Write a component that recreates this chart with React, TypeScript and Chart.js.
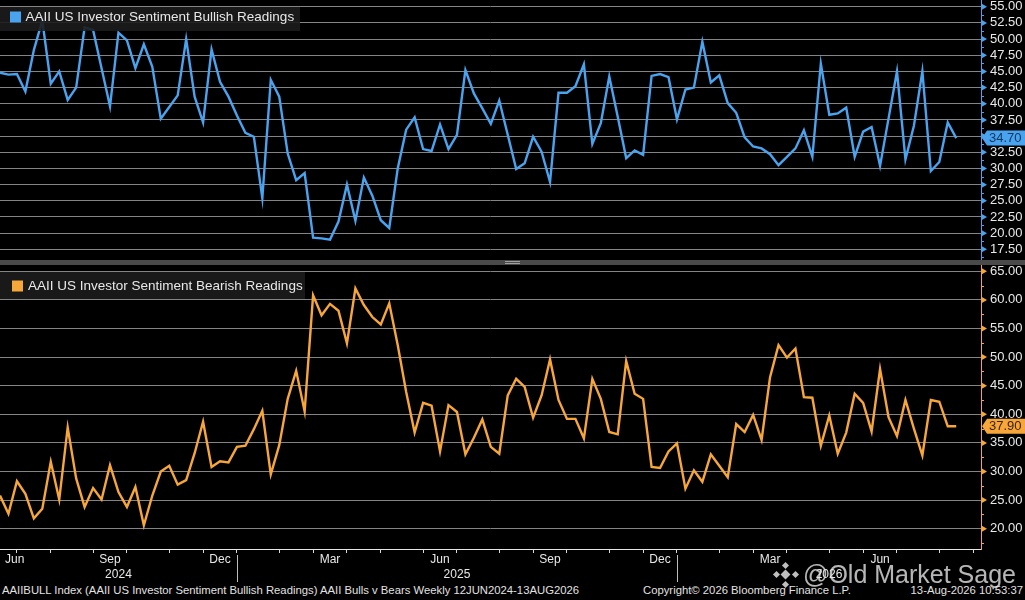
import React, { useEffect, useRef } from 'react';
import { Chart, registerables } from 'chart.js';

Chart.register(...registerables);

// ---------- data ----------
const FIRST_WEEK = '2024-06-13';

const BULLISH: number[] = [
  44.8, 44.5, 44.6, 41.9, 48.3, 52.9, 43.1, 45.0, 40.6, 42.5,
  51.8, 51.4, 45.5, 39.6, 51.0, 49.8, 45.5, 49.2, 45.7, 37.7,
  39.5, 41.3, 50.0, 41.1, 37.1, 48.4, 43.4, 41.1, 38.2, 35.5,
  34.9, 25.4, 43.7, 41.1, 32.3, 28.2, 29.3, 19.3, 19.2, 19.0,
  21.8, 27.5, 21.9, 28.6, 25.8, 22.0, 20.8, 30.0, 36.0, 37.9,
  33.0, 32.7, 36.8, 33.0, 35.2, 45.2, 41.6, 39.3, 36.9, 40.5,
  35.2, 29.9, 30.8, 34.9, 32.6, 27.9, 41.7, 41.7, 42.7, 46.1,
  33.8, 37.0, 44.2, 38.0, 31.6, 32.8, 32.1, 44.3, 44.6, 44.1,
  37.6, 42.2, 42.5, 49.6, 43.3, 44.4, 40.1, 38.6, 34.8, 33.4,
  33.1, 32.2, 30.5, 31.8, 33.1, 35.9, 31.8, 46.2, 38.3, 38.5,
  39.4, 31.8, 35.7, 36.4, 30.4, 37.7, 45.0, 31.4, 36.6, 45.0,
  29.6, 31.0, 37.1, 34.7,
];

const BEARISH: number[] = [
  25.8, 22.6, 28.3, 26.1, 21.8, 23.5, 31.7, 25.1, 37.7, 28.8,
  23.8, 27.1, 25.1, 31.1, 26.4, 23.8, 27.3, 20.6, 25.8, 30.0,
  31.0, 27.7, 28.5, 33.2, 38.7, 30.8, 31.8, 31.6, 34.3, 34.5,
  37.4, 40.6, 29.5, 34.6, 42.7, 47.6, 40.5, 60.8, 57.3, 59.3,
  58.1, 52.4, 62.0, 59.1, 57.0, 55.7, 59.4, 52.1, 43.9, 36.8,
  42.0, 41.5, 33.5, 41.6, 40.4, 33.0, 35.9, 39.1, 34.3, 33.1,
  43.3, 46.2, 44.8, 39.4, 43.3, 49.6, 42.5, 39.2, 39.2, 35.8,
  46.2, 42.7, 36.9, 36.5, 49.3, 43.6, 42.7, 30.8, 30.6, 33.5,
  34.9, 27.0, 30.2, 28.2, 33.0, 31.0, 29.0, 38.3, 36.9, 39.9,
  35.5, 46.5, 52.1, 49.9, 51.5, 43.0, 42.9, 34.5, 39.8, 33.1,
  36.8, 43.6, 42.0, 37.0, 47.9, 39.5, 36.2, 42.5, 37.5, 32.8,
  42.5, 42.2, 37.9, 37.9,
];

const BULL_TICKS = [17.5, 20, 22.5, 25, 27.5, 30, 32.5, 35, 37.5, 40, 42.5, 45, 47.5, 50, 52.5, 55];
const BEAR_TICKS = [20, 25, 30, 35, 40, 45, 50, 55, 60, 65];

const MONTH_LABELS = ['Jun', 'Sep', 'Dec', 'Mar', 'Jun', 'Sep', 'Dec', 'Mar', 'Jun'];
const MONTH_KEYS = ['2024-06', '2024-09', '2024-12', '2025-03', '2025-06', '2025-09', '2025-12', '2026-03', '2026-06'];
const YEAR_LABELS = ['2024', '2025', '2026'];

const BULL_LABEL = 'AAII US Investor Sentiment Bullish Readings';
const BEAR_LABEL = 'AAII US Investor Sentiment Bearish Readings';
const FOOTER_LEFT = 'AAIIBULL Index (AAII US Investor Sentiment Bullish Readings) AAII Bulls v Bears Weekly 12JUN2024-13AUG2026';
const FOOTER_MID = 'Copyright\u00A9 2026 Bloomberg Finance L.P.';
const FOOTER_RIGHT = '13-Aug-2026 10:53:37';
const WATERMARK = '@Old Market Sage';

// ---------- style ----------
const FONT = "'Liberation Sans', Arial, sans-serif";
const BLUE = '#4aa3ee';
const ORANGE = '#f7a73a';
const GRID = '#848484';
const TEXT = '#e8e8e8';

// ---------- date helpers ----------
const DAY = 86400000;
const WEEK = 7 * DAY;
const ORIGIN = Date.UTC(2024, 5, 12);
const toUTC = (iso: string) => {
  const [y, m, d] = iso.split('-').map(Number);
  return Date.UTC(y, m - 1, d || 1);
};
const dayOf = (t: number) => (t - ORIGIN) / DAY;
const FIRST_T = toUTC(FIRST_WEEK);
const weekDays = BULLISH.map((_, i) => dayOf(FIRST_T + i * WEEK));
const X_MIN = weekDays[0];
const X_MAX = weekDays[weekDays.length - 1] + 20.5;

const monthKey = (t: number) => {
  const d = new Date(t);
  return `${d.getUTCFullYear()}-${String(d.getUTCMonth() + 1).padStart(2, '0')}`;
};
const yearKey = (t: number) => String(new Date(t).getUTCFullYear());

type Bin = { key: string; start: number; end: number };
function buildBins(keyFn: (t: number) => string) {
  const bins: Bin[] = [];
  const ticks: number[] = [];
  let start = X_MIN;
  for (let t = FIRST_T; dayOf(t) <= X_MAX; t += WEEK) {
    if (keyFn(t) !== keyFn(t + WEEK)) {
      const d = dayOf(t);
      if (d <= X_MAX) {
        ticks.push(d);
        bins.push({ key: keyFn(t), start, end: d });
        start = d;
      }
    }
  }
  let lastT = FIRST_T;
  while (dayOf(lastT + WEEK) <= X_MAX) lastT += WEEK;
  bins.push({ key: keyFn(lastT + WEEK), start, end: X_MAX });
  return { bins, ticks };
}
const MONTHS = buildBins(monthKey);
const YEARS = buildBins(yearKey);

// ---------- plugins ----------
type PanelOpts = {
  color: string; tagText: string; label: string; ticks: number[]; last: number;
  box: { x: number; y: number; w: number; h: number; cy: number; sx: number; tx: number };
};

function panelPlugin(o: PanelOpts) {
  return {
    id: 'panelDecor',
    afterDraw(chart: any) {
      const { ctx, chartArea: ca } = chart;
      const ys = chart.scales.y;
      ctx.save();
      const step = o.ticks[1] - o.ticks[0];
      const minors = [o.ticks[0] - step / 2, ...o.ticks.map((v) => v + step / 2)].filter(
        (v) => v >= ys.min && v <= ys.max,
      );
      ctx.strokeStyle = o.color;
      ctx.lineWidth = 1;
      minors.forEach((v) => {
        const y = Math.round(ys.getPixelForValue(v)) + 0.5;
        ctx.beginPath();
        ctx.moveTo(ca.right, y);
        ctx.lineTo(ca.right + 3, y);
        ctx.stroke();
      });
      ctx.fillStyle = o.color;
      o.ticks.forEach((v) => {
        const y = ys.getPixelForValue(v);
        ctx.beginPath();
        ctx.moveTo(ca.right, y - 3.5);
        ctx.lineTo(ca.right + 6, y);
        ctx.lineTo(ca.right, y + 3.5);
        ctx.closePath();
        ctx.fill();
      });
      // legend box
      const b = o.box;
      ctx.globalAlpha = 0.9;
      ctx.fillStyle = '#1c1c1c';
      ctx.fillRect(b.x, b.y, b.w, b.h);
      ctx.globalAlpha = 1;
      ctx.fillStyle = o.color;
      ctx.fillRect(b.sx, b.cy - 5.5, 11, 11);
      ctx.fillStyle = TEXT;
      ctx.font = `13.5px ${FONT}`;
      ctx.textBaseline = 'middle';
      ctx.textAlign = 'left';
      ctx.fillText(o.label, b.tx, b.cy + 0.5);
      // last value tag
      const ty = ys.getPixelForValue(o.last);
      const x0 = ca.right + 1;
      const w = chart.width;
      ctx.fillStyle = o.color;
      ctx.beginPath();
      ctx.moveTo(x0, ty);
      ctx.lineTo(x0 + 5, ty - 7.5);
      ctx.lineTo(w, ty - 7.5);
      ctx.lineTo(w, ty + 7.5);
      ctx.lineTo(x0 + 5, ty + 7.5);
      ctx.closePath();
      ctx.fill();
      ctx.fillStyle = o.tagText;
      ctx.font = `13px ${FONT}`;
      ctx.fillText(o.last.toFixed(2), ca.right + 8, ty + 0.5);
      ctx.restore();
    },
  };
}

const xLabelsPlugin = {
  id: 'xLabels',
  afterDraw(chart: any) {
    const { ctx, chartArea: ca } = chart;
    const xs = chart.scales.x;
    ctx.save();
    ctx.fillStyle = TEXT;
    ctx.font = `12px ${FONT}`;
    ctx.textAlign = 'center';
    ctx.textBaseline = 'middle';
    MONTHS.bins.forEach((b) => {
      const idx = MONTH_KEYS.indexOf(b.key);
      if (idx < 0) return;
      const label = MONTH_LABELS[idx];
      const w = ctx.measureText(label).width;
      let x = (xs.getPixelForValue(b.start) + xs.getPixelForValue(b.end)) / 2;
      x = Math.max(x, ca.left + w / 2 + 5);
      ctx.fillText(label, x, ca.bottom + 11);
    });
    ctx.strokeStyle = '#bdbdbd';
    ctx.lineWidth = 1;
    YEARS.ticks.forEach((d) => {
      const x = Math.round(xs.getPixelForValue(d)) + 0.5;
      ctx.beginPath();
      ctx.moveTo(x, ca.bottom + 6);
      ctx.lineTo(x, ca.bottom + 33);
      ctx.stroke();
    });
    YEARS.bins.forEach((b) => {
      if (!YEAR_LABELS.includes(b.key)) return;
      const x = (xs.getPixelForValue(b.start) + xs.getPixelForValue(b.end)) / 2;
      ctx.fillText(b.key, x, ca.bottom + 26);
    });
    ctx.restore();
  },
};

function yScale(min: number, max: number, ticks: number[], color: string) {
  return {
    position: 'right' as const,
    min,
    max,
    afterBuildTicks: (s: any) => {
      s.ticks = ticks.map((v) => ({ value: v }));
    },
    afterFit: (s: any) => {
      s.width = 44;
      s.paddingTop = 0;
      s.paddingBottom = 0;
    },
    grid: { color: GRID, lineWidth: 1, drawTicks: false },
    border: { display: true, color, width: 1 },
    ticks: {
      color: TEXT,
      font: { family: FONT, size: 13 },
      padding: 9,
      autoSkip: false,
      callback: (v: any) => Number(v).toFixed(2),
    },
  };
}

export default function App() {
  const topRef = useRef<HTMLCanvasElement>(null);
  const botRef = useRef<HTMLCanvasElement>(null);

  useEffect(() => {
    const common = {
      animation: false as const,
      responsive: false,
      devicePixelRatio: 1,
      layout: { padding: 0 },
      events: [] as any[],
      plugins: { legend: { display: false }, tooltip: { enabled: false } },
      elements: { point: { radius: 0 }, line: { tension: 0 } },
    };

    const top = new Chart(topRef.current!, {
      type: 'line',
      data: {
        datasets: [
          {
            label: BULL_LABEL,
            data: BULLISH.map((v, i) => ({ x: weekDays[i], y: v })),
            borderColor: BLUE,
            borderWidth: 2.4,
            fill: false,
          },
        ],
      },
      options: {
        ...common,
        scales: {
          x: { type: 'linear', min: X_MIN, max: X_MAX, display: false },
          y: yScale(15.85, 56.04, BULL_TICKS, BLUE),
        },
      } as any,
      plugins: [
        panelPlugin({
          color: BLUE,
          tagText: '#123a63',
          label: BULL_LABEL,
          ticks: BULL_TICKS,
          last: BULLISH[BULLISH.length - 1],
          box: { x: 0, y: 7, w: 300, h: 24, cy: 17, sx: 10, tx: 25.5 },
        }),
      ],
    });

    const bot = new Chart(botRef.current!, {
      type: 'line',
      data: {
        datasets: [
          {
            label: BEAR_LABEL,
            data: BEARISH.map((v, i) => ({ x: weekDays[i], y: v })),
            borderColor: ORANGE,
            borderWidth: 2.4,
            fill: false,
          },
        ],
      },
      options: {
        ...common,
        scales: {
          x: {
            type: 'linear',
            min: X_MIN,
            max: X_MAX,
            afterBuildTicks: (s: any) => {
              s.ticks = MONTHS.ticks.map((v) => ({ value: v }));
            },
            afterFit: (s: any) => {
              s.height = 34;
              s.paddingLeft = 0;
              s.paddingRight = 0;
            },
            grid: { display: true, drawOnChartArea: false, drawTicks: true, tickLength: 4, color: '#d8d8d8', lineWidth: 1 },
            border: { display: true, color: '#e6e6e6', width: 1 },
            ticks: { display: false, autoSkip: false },
          },
          y: yScale(16.45, 66.1, BEAR_TICKS, ORANGE),
        },
      } as any,
      plugins: [
        panelPlugin({
          color: ORANGE,
          tagText: '#3d2400',
          label: BEAR_LABEL,
          ticks: BEAR_TICKS,
          last: BEARISH[BEARISH.length - 1],
          box: { x: 0, y: 7, w: 305, h: 27, cy: 21, sx: 12, tx: 28 },
        }),
        xLabelsPlugin,
      ],
    });

    return () => {
      top.destroy();
      bot.destroy();
    };
  }, []);

  const footStyle: React.CSSProperties = {
    position: 'absolute',
    top: 583,
    font: `11.3px ${FONT}`,
    lineHeight: '15px',
    color: '#e2e2e2',
    whiteSpace: 'nowrap',
  };
  const diamond = (cx: number, cy: number, s: number): React.CSSProperties => ({
    position: 'absolute',
    left: cx - s / 2,
    top: cy - s / 2,
    width: s,
    height: s,
    background: 'rgba(225,225,225,0.85)',
    transform: 'rotate(45deg)',
  });

  return (
    <div
      style={{
        position: 'fixed',
        left: 0,
        top: 0,
        width: 1025,
        height: 600,
        background: '#000',
        overflow: 'hidden',
      }}
    >
      <canvas ref={topRef} width={1025} height={260} style={{ position: 'absolute', left: 0, top: 0 }} />
      <div style={{ position: 'absolute', left: 0, top: 260, width: 1025, height: 5, background: '#4a4a4a' }}>
        <div style={{ position: 'absolute', left: 505, top: 1, width: 15, height: 1, background: '#a0a0a0' }} />
        <div style={{ position: 'absolute', left: 505, top: 3, width: 15, height: 1, background: '#a0a0a0' }} />
      </div>
      <canvas ref={botRef} width={1025} height={318} style={{ position: 'absolute', left: 0, top: 265 }} />
      <div style={{ ...footStyle, left: 2 }}>{FOOTER_LEFT}</div>
      <div style={{ ...footStyle, left: 643 }}>{FOOTER_MID}</div>
      <div style={{ ...footStyle, right: 2 }}>{FOOTER_RIGHT}</div>
      <div style={{ position: 'absolute', left: 772, top: 561, width: 27, height: 27 }}>
        <div style={diamond(13.5, 13.5, 7)} />
        <div style={diamond(13.5, 4, 5)} />
        <div style={diamond(13.5, 23, 5)} />
        <div style={diamond(4, 13.5, 5)} />
        <div style={diamond(23, 13.5, 5)} />
      </div>
      <div
        style={{
          position: 'absolute',
          left: 803,
          top: 562,
          font: `25px ${FONT}`,
          lineHeight: '25px',
          color: 'rgba(228,228,228,0.8)',
          whiteSpace: 'nowrap',
        }}
      >
        {WATERMARK}
      </div>
    </div>
  );
}
